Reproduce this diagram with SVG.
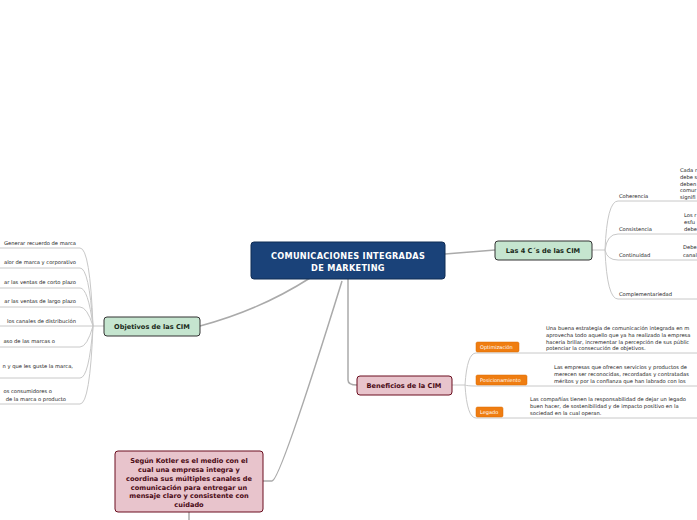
<svg xmlns="http://www.w3.org/2000/svg" width="697" height="520" viewBox="0 0 697 520">
<style>
text{font-family:"DejaVu Sans",Verdana,sans-serif}
.c{fill:none;stroke:#c8c8c8;stroke-width:1}
.m{fill:none;stroke:#aaa;stroke-width:1.5}
.l{font-size:5.2px;fill:#222}
.t{font-size:5px;fill:#fff}
.b{font-weight:bold;font-size:6.6px;text-anchor:middle}
.ct{font-weight:bold;font-size:8.2px;letter-spacing:0.3px;text-anchor:middle;fill:#fff}
.tag{fill:#ef7d11;stroke:#d86a00;stroke-width:.5}
</style>
<rect width="697" height="520" fill="#fff"/>
<g id="connectors">
<path class="m" d="M200,326 Q260,310 310,278"/>
<path class="m" d="M445,254 L495,250"/>
<path class="m" d="M348,279 L348,380 Q348,385 357,385"/>
<path class="m" d="M263,481 L272,481 Q280,481 342,281"/>
<path class="m" d="M189,512 L189,520"/>
<path class="c" d="M104,326 L93,326"/>
<g class="c">
<path d="M93,326 Q90,248 80,248 L0,248"/><path d="M93,326 Q89,268 80,268 L0,268"/><path d="M93,326 Q88,288 80,288 L0,288"/><path d="M93,326 Q87,307 80,307 L0,307"/><path d="M93,326 L0,326"/><path d="M93,326 Q87,347 80,347 L0,347"/><path d="M93,326 Q89,378 80,378 L0,378"/><path d="M93,326 Q90,404 80,404 L0,404"/>
<path d="M592,250 L605,250"/>
<path d="M605,250 Q607,201 618,201 L697,201"/><path d="M605,250 Q607,234 618,234 L697,234"/><path d="M605,250 Q607,260 618,260 L697,260"/><path d="M605,250 Q607,299 618,299 L697,299"/>
<path d="M452,385 L465,385"/>
<path d="M465,385 Q467,353 476,353 L697,353"/><path d="M465,385 Q467,386 476,386 L697,386"/><path d="M465,385 Q467,418 476,418 L697,418"/>
</g>
</g>
<g id="central"><rect x="251" y="242" width="194" height="37" rx="3" fill="#1a4279" stroke="#0f2c55"/>
<text class="ct" x="348" y="259">COMUNICACIONES INTEGRADAS</text><text class="ct" x="348" y="271">DE MARKETING</text></g>
<g id="objetivos"><rect x="104" y="317" width="96" height="19" rx="3" fill="#c5e5cf" stroke="#333"/><text class="b" x="152" y="329" fill="#1a2a1a">Objetivos de las CIM</text>
<g class="l" text-anchor="end"><text x="76" y="245">Generar recuerdo de marca</text><text x="76" y="264">alor de marca y corporativo</text><text x="76" y="284">ar las ventas de corto plazo</text><text x="76" y="303">ar las ventas de largo plazo</text><text x="76" y="323">los  canales de  distribución</text><text x="55" y="343">aso de las marcas o</text><text x="73" y="368">n y que les guste la marca,</text><text x="52" y="393">os consumidores o</text><text x="66" y="401">de la marca o producto</text></g></g>
<g id="cs"><rect x="495" y="241" width="97" height="19" rx="3" fill="#c5e5cf" stroke="#333"/><text class="b" x="543" y="253" fill="#1a2a1a">Las 4 C´s de las CIM</text>
<g class="l"><text x="619" y="198">Coherencia</text><text x="619" y="231">Consistencia</text><text x="619" y="257">Continuidad</text><text x="619" y="296">Complementariedad</text>
<text x="680" y="172">Cada r</text><text x="680" y="179">debe s</text><text x="680" y="186">deben</text><text x="680" y="192">comur</text><text x="680" y="199">signifi</text>
<text x="684" y="217">Los r</text><text x="684" y="224">esfu</text><text x="684" y="231">debe</text><text x="683" y="249">Debe</text><text x="683" y="257">canal</text></g></g>
<g id="beneficios"><rect x="357" y="376" width="95" height="19" rx="3" fill="#e8c4cc" stroke="#6a0d1e"/><text class="b" x="404" y="388" fill="#4a0a14">Beneficios de la CIM</text>
<rect class="tag" x="476" y="342" width="43" height="10" rx="1.5"/><text class="t" x="480" y="349">Optimización</text>
<rect class="tag" x="476" y="375" width="51" height="10" rx="1.5"/><text class="t" x="480" y="382">Posicionamiento</text>
<rect class="tag" x="476" y="407" width="27" height="10" rx="1.5"/><text class="t" x="480" y="414">Legado</text>
<g class="l"><text x="546" y="330">Una buena estrategia de comunicación integrada en m</text><text x="546" y="337">aprovecha todo aquello que ya ha realizado la empresa</text><text x="546" y="344">haceria brillar, incrementar la percepción de sus públic</text><text x="546" y="350">potenciar la consecución de objetivos.</text>
<text x="554" y="369">Las empresas que ofrecen servicios y productos de</text><text x="554" y="376">merecen ser reconocidas, recordadas y contratadas</text><text x="554" y="383">méritos y por la confianza que han labrado con los</text>
<text x="530" y="401">Las compañías tienen la responsabilidad de dejar un legado</text><text x="530" y="408">buen hacer, de sostenibilidad y de impacto positivo en la</text><text x="530" y="415">sociedad en la cual operan.</text></g></g>
<g id="kotler"><rect x="115" y="451" width="148" height="61" rx="3" fill="#e8c4cc" stroke="#6a0d1e"/>
<g class="b" fill="#4a0a14"><text x="189" y="463">Según Kotler es el medio con el</text><text x="189" y="472">cual una empresa integra y</text><text x="189" y="481">coordina sus múltiples canales de</text><text x="189" y="490">comunicación para entregar un</text><text x="189" y="498">mensaje claro y consistente con</text><text x="189" y="507">cuidado</text></g></g>
</svg>
